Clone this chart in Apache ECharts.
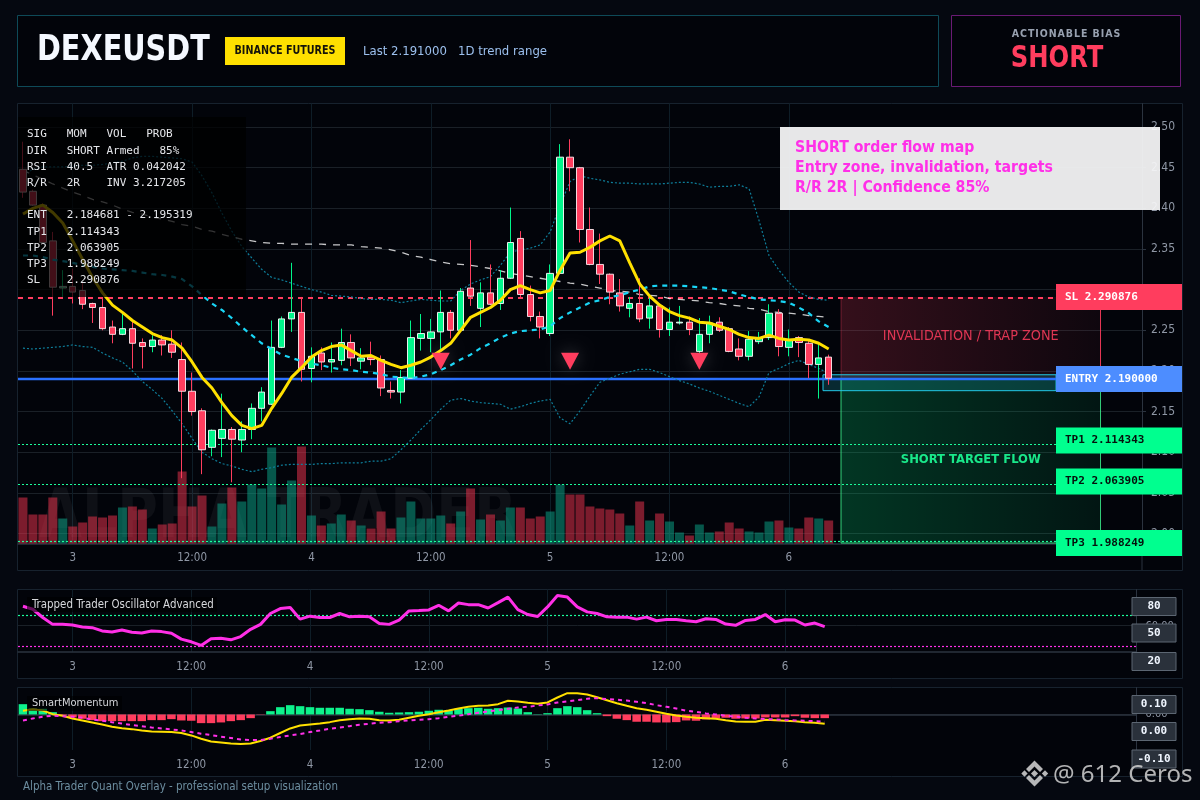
<!DOCTYPE html>
<html><head><meta charset="utf-8"><style>html,body{margin:0;padding:0;background:#050810}#c{width:1200px;height:800px}</style>
<script src="https://cdn.jsdelivr.net/npm/echarts@6/dist/echarts.min.js"></script></head><body><div id="c"></div>
<script>
const timeLabels = {5:'3',17:'12:00',29:'4',41:'12:00',53:'5',65:'12:00',77:'6'};
const slotCount = 113;
// [open, close, low, high]
const ohlc = [
[2.448,2.420,2.413,2.482],[2.421,2.404,2.403,2.423],[2.404,2.358,2.357,2.406],[2.360,2.303,2.268,2.371],[2.302,2.304,2.291,2.324],
[2.304,2.297,2.283,2.326],[2.299,2.282,2.276,2.309],[2.283,2.278,2.259,2.284],[2.278,2.252,2.250,2.289],[2.254,2.245,2.234,2.262],
[2.245,2.252,2.244,2.271],[2.252,2.234,2.203,2.262],[2.235,2.230,2.203,2.240],[2.230,2.238,2.223,2.244],[2.238,2.232,2.219,2.244],
[2.233,2.223,2.216,2.250],[2.214,2.175,2.068,2.235],[2.175,2.150,2.145,2.198],[2.151,2.103,2.073,2.154],[2.106,2.127,2.095,2.128],
[2.117,2.128,2.094,2.172],[2.128,2.116,2.063,2.131],[2.115,2.128,2.100,2.138],[2.128,2.154,2.116,2.160],[2.154,2.174,2.138,2.180],
[2.159,2.229,2.158,2.262],[2.229,2.264,2.228,2.267],[2.264,2.272,2.248,2.333],[2.272,2.202,2.187,2.291],[2.203,2.218,2.186,2.229],
[2.222,2.211,2.201,2.229],[2.211,2.214,2.198,2.235],[2.213,2.235,2.207,2.252],[2.235,2.216,2.206,2.245],[2.212,2.216,2.202,2.228],
[2.217,2.214,2.207,2.236],[2.214,2.179,2.169,2.219],[2.176,2.174,2.166,2.187],[2.174,2.192,2.160,2.201],[2.191,2.241,2.191,2.262],
[2.240,2.246,2.225,2.270],[2.240,2.248,2.223,2.264],[2.248,2.272,2.225,2.299],[2.272,2.250,2.240,2.275],[2.250,2.298,2.249,2.302],
[2.302,2.292,2.280,2.361],[2.277,2.296,2.254,2.309],[2.296,2.282,2.281,2.331],[2.283,2.314,2.275,2.324],[2.314,2.358,2.313,2.401],
[2.363,2.294,2.289,2.372],[2.294,2.267,2.261,2.305],[2.267,2.254,2.240,2.273],[2.246,2.320,2.243,2.331],[2.320,2.463,2.319,2.479],
[2.463,2.450,2.421,2.485],[2.450,2.374,2.358,2.451],[2.374,2.331,2.330,2.401],[2.331,2.319,2.307,2.369],[2.319,2.297,2.282,2.320],
[2.296,2.280,2.273,2.313],[2.277,2.283,2.266,2.291],[2.283,2.264,2.260,2.314],[2.265,2.280,2.252,2.293],[2.280,2.251,2.241,2.283],
[2.251,2.260,2.243,2.278],[2.259,2.260,2.257,2.280],[2.260,2.251,2.244,2.267],[2.224,2.245,2.222,2.265],[2.245,2.259,2.234,2.268],
[2.260,2.250,2.248,2.266],[2.252,2.224,2.223,2.254],[2.227,2.218,2.213,2.240],[2.218,2.239,2.213,2.249],[2.236,2.241,2.233,2.248],
[2.241,2.271,2.238,2.282],[2.271,2.230,2.218,2.276],[2.229,2.238,2.218,2.251],[2.241,2.235,2.217,2.243],[2.234,2.208,2.191,2.238],
[2.208,2.216,2.166,2.234],[2.217,2.191,2.183,2.220]];
const volumes = [46,29,29,46,25,17,21,27,26,28,36,37,34,15,19,20,72,37,48,17,40,56,42,59,55,96,39,63,97,28,18,20,29,23,18,15,32,15,26,42,25,25,28,20,32,55,24,29,23,36,36,25,27,32,59,49,49,37,35,34,30,18,42,23,30,22,11,8,19,11,12,21,15,12,11,22,23,16,15,26,25,23];
const emaFast = [2.393,2.400,2.404,2.395,2.382,2.360,2.337,2.315,2.296,2.281,2.272,2.262,2.254,2.246,2.241,2.238,2.228,2.211,2.192,2.179,2.161,2.145,2.133,2.129,2.133,2.154,2.172,2.192,2.204,2.217,2.225,2.230,2.232,2.225,2.218,2.219,2.213,2.208,2.204,2.207,2.211,2.217,2.225,2.234,2.250,2.266,2.272,2.278,2.287,2.300,2.305,2.300,2.296,2.299,2.324,2.345,2.346,2.352,2.360,2.366,2.360,2.333,2.307,2.292,2.281,2.273,2.268,2.265,2.260,2.259,2.255,2.251,2.245,2.241,2.240,2.244,2.240,2.238,2.239,2.238,2.234,2.227];
const emaMid = [2.342,2.342,2.340,2.337,2.335,2.333,2.330,2.328,2.326,2.325,2.324,2.323,2.321,2.319,2.318,2.316,2.313,2.304,2.293,2.283,2.275,2.265,2.254,2.244,2.234,2.227,2.220,2.216,2.212,2.209,2.207,2.204,2.202,2.201,2.199,2.198,2.196,2.193,2.192,2.191,2.193,2.196,2.201,2.207,2.214,2.220,2.228,2.234,2.241,2.246,2.249,2.250,2.251,2.255,2.265,2.272,2.278,2.284,2.287,2.291,2.293,2.297,2.300,2.304,2.305,2.305,2.305,2.304,2.303,2.302,2.300,2.298,2.294,2.291,2.288,2.287,2.286,2.284,2.278,2.271,2.261,2.254];
const bandUpper = [2.441,2.448,2.451,2.451,2.451,2.452,2.453,2.453,2.454,2.456,2.458,2.462,2.464,2.464,2.463,2.462,2.461,2.457,2.440,2.419,2.394,2.372,2.353,2.339,2.325,2.315,2.312,2.308,2.304,2.300,2.297,2.293,2.292,2.291,2.289,2.288,2.288,2.287,2.284,2.286,2.288,2.287,2.286,2.286,2.299,2.307,2.312,2.316,2.330,2.346,2.349,2.351,2.355,2.371,2.404,2.433,2.440,2.437,2.435,2.432,2.431,2.431,2.430,2.430,2.430,2.431,2.432,2.432,2.430,2.426,2.427,2.427,2.429,2.424,2.385,2.342,2.324,2.309,2.297,2.291,2.288,2.287];
const bandLower = [2.228,2.227,2.228,2.229,2.230,2.232,2.230,2.229,2.222,2.216,2.211,2.200,2.187,2.177,2.166,2.151,2.135,2.117,2.100,2.092,2.086,2.083,2.079,2.076,2.079,2.081,2.084,2.085,2.085,2.085,2.086,2.086,2.087,2.087,2.087,2.089,2.089,2.092,2.103,2.115,2.128,2.140,2.153,2.164,2.166,2.163,2.161,2.160,2.159,2.153,2.156,2.160,2.163,2.165,2.142,2.135,2.151,2.169,2.186,2.191,2.196,2.199,2.202,2.202,2.198,2.193,2.188,2.184,2.179,2.175,2.170,2.165,2.160,2.156,2.168,2.198,2.203,2.209,2.213,2.208,2.203,2.197];
const maSlow = [2.447,2.441,2.436,2.430,2.425,2.420,2.416,2.411,2.408,2.404,2.399,2.395,2.393,2.389,2.387,2.384,2.380,2.378,2.374,2.372,2.368,2.365,2.362,2.360,2.358,2.357,2.357,2.356,2.356,2.356,2.356,2.355,2.355,2.355,2.353,2.352,2.351,2.349,2.346,2.342,2.340,2.337,2.334,2.332,2.331,2.330,2.328,2.326,2.323,2.320,2.318,2.316,2.314,2.312,2.310,2.308,2.307,2.304,2.302,2.299,2.298,2.297,2.294,2.293,2.292,2.289,2.288,2.287,2.286,2.284,2.283,2.281,2.280,2.277,2.276,2.273,2.272,2.271,2.270,2.268,2.267,2.266];
const oscillator = [98.1,92.3,76.1,62.6,62.6,61.3,57.4,56.1,49.7,47.8,51.6,47.1,45.8,49.7,48.4,45.2,33.6,28.4,21.3,34.2,35.5,32.3,38.7,52.9,62.6,83.9,93.6,95.5,72.9,78.7,76.1,76.1,83.9,77.4,78.7,77.4,64.5,62.6,71,89,89.7,91,100,89,104.5,101.3,101.3,94.8,105.2,116.1,91.6,81.9,78.1,96.8,119.4,116.1,96.8,87.1,83.9,77.4,76.8,76.8,72.9,76.8,69.7,72.3,72.3,69.7,67.7,73.6,72.3,63.2,60.7,70.3,72.3,81.9,67.7,71.6,71,61.3,65.2,58.1];
const momHist = [.103,.060,.057,.023,-.007,-.030,-.043,-.057,-.067,-.067,-.067,-.067,-.067,-.057,-.057,-.047,-.060,-.063,-.087,-.087,-.080,-.067,-.057,-.037,-.003,.033,.073,.093,.083,.073,.067,.067,.067,.057,.053,.043,.027,.017,.020,.023,.027,.037,.047,.040,.057,.063,.067,.057,.063,.070,.060,.023,.003,.013,.063,.083,.073,.043,.013,-.017,-.043,-.057,-.073,-.073,-.080,-.080,-.077,-.060,-.063,-.050,-.040,-.033,-.043,-.040,-.040,-.030,-.030,-.030,-.017,-.033,-.037,-.037];
const momLine = [.037,.053,.040,.003,-.013,-.040,-.060,-.080,-.100,-.123,-.137,-.147,-.160,-.170,-.173,-.176,-.186,-.210,-.243,-.270,-.280,-.290,-.296,-.290,-.266,-.233,-.186,-.140,-.110,-.100,-.090,-.077,-.057,-.047,-.040,-.043,-.057,-.060,-.053,-.033,-.013,.003,.023,.040,.060,.077,.087,.090,.103,.137,.130,.117,.107,.120,.170,.213,.213,.200,.173,.143,.113,.087,.063,.047,.027,.007,-.010,-.023,-.033,-.037,-.043,-.057,-.070,-.073,-.073,-.053,-.057,-.063,-.067,-.077,-.083,-.093];
const momSignal = [-.060,-.040,-.023,-.013,-.017,-.023,-.033,-.050,-.063,-.077,-.090,-.107,-.117,-.130,-.140,-.150,-.160,-.176,-.193,-.206,-.223,-.236,-.250,-.256,-.256,-.243,-.226,-.210,-.196,-.176,-.160,-.143,-.130,-.117,-.103,-.093,-.083,-.077,-.067,-.060,-.053,-.047,-.037,-.023,-.013,.003,.017,.030,.043,.057,.070,.077,.090,.100,.120,.130,.143,.157,.163,.153,.147,.140,.127,.113,.093,.077,.060,.037,.027,.010,0,-.013,-.023,-.033,-.040,-.047,-.050,-.057,-.060,-.063,-.067,-.073];
const signalIndex = [42,55,68];
const signalPrice = [2.212,2.212,2.212];
const priceTicks = [2.00,2.05,2.10,2.15,2.20,2.25,2.30,2.35,2.40,2.45,2.50];
const levelNames = ['SL','ENTRY','TP1','TP2','TP3'];
const levelPrices = [2.290876,2.190000,2.114343,2.063905,1.988249];
const oscLevels = [80,20];
const oscTags = ['80','50','20'];
const momTags = ['0.10','0.00','-0.10'];
const infoLines = ['SIG   MOM   VOL   PROB','DIR   SHORT Armed   85%','RSI   40.5  ATR 0.042042','R/R   2R    INV 3.217205','','ENT   2.184681 - 2.195319','TP1   2.114343','TP2   2.063905','TP3   1.988249','SL    2.290876'];
const noteLines = ['SHORT order flow map','Entry zone, invalidation, targets','R/R 2R | Confidence 85%'];

const SANS = '"DejaVu Sans Condensed","DejaVu Sans",sans-serif';
const MONO = '"DejaVu Sans Mono",monospace';
const RED='#ff3d5e', GREEN='#00f58a', TAGGREEN='#00ff8f', BLUE='#4d8dff';
const categories = Array.from({length:slotCount},(_,i)=>String(i));
const isTime = i => timeLabels[i]!==undefined;
const xAxisFor = (gridIndex)=>({
  type:'category',gridIndex,data:categories,boundaryGap:true,
  axisLine:{lineStyle:{color:'#2b333f',width:1.5}},
  axisTick:{show:false},
  axisLabel:{color:'#8f97a5',fontFamily:SANS,fontSize:11.5,margin:9,interval:(i)=>isTime(i),formatter:(v,i)=>timeLabels[i]||''},
  splitLine:{show:true,alignWithLabel:true,interval:(i)=>isTime(i),lineStyle:{color:'#0e1d27',width:1}}
});
const yBase = {position:'right',scale:false,splitNumber:1,
  axisLine:{show:true,lineStyle:{color:'#2b333f'}},
  axisLabel:{color:'#8f97a5',fontFamily:SANS,fontSize:12,margin:9},
  splitLine:{show:true,lineStyle:{color:'#1a2027',width:1}}};

const zoneFrom=[82.24,82.24,80.43], zoneTo=[108.33,108.33,103.86];
const zoneTop=[2.290876,2.190000,2.1953], zoneBottom=[2.190000,1.988249,2.1757];
function slotX(api,v,y){const f=Math.floor(v);const a=api.coord([f,y])[0],b=api.coord([f+1,y])[0];return a+(b-a)*(v-f);}
function renderZone(params,api){
  const i=params.dataIndex;
  const x0=slotX(api,zoneFrom[i],zoneTop[i]),x1=slotX(api,zoneTo[i],zoneTop[i]);
  const y0=api.coord([0,zoneTop[i]])[1],y1=api.coord([0,zoneBottom[i]])[1];
  const G=echarts.graphic.LinearGradient;
  if(i===0) return {type:'group',children:[
    {type:'rect',shape:{x:x0,y:y0,width:x1-x0,height:y1-y0},style:{fill:new G(0,0,1,0,[{offset:0,color:'rgba(255,61,94,0.20)'},{offset:1,color:'rgba(255,61,94,0.05)'}])}},
    {type:'line',shape:{x1:x0,y1:y0,x2:x0,y2:y1},style:{stroke:'rgba(255,61,94,0.35)',lineWidth:1}},
    {type:'line',shape:{x1:x1,y1:y0,x2:x1,y2:y1},style:{stroke:'rgba(255,61,94,0.9)',lineWidth:1}},
    {type:'text',style:{x:(x0+x1)/2,y:(y0+y1)/2-2,text:'INVALIDATION / TRAP ZONE',fill:'rgba(255,61,94,0.85)',font:'14.3px '+SANS,align:'center',verticalAlign:'middle'}}
  ]};
  if(i===1) return {type:'group',children:[
    {type:'rect',shape:{x:x0,y:y0,width:x1-x0,height:y1-y0},style:{fill:new G(0,0,1,0,[{offset:0,color:'rgba(0,255,136,0.20)'},{offset:1,color:'rgba(0,255,136,0.07)'}]),stroke:'rgba(60,240,140,0.85)',lineWidth:1}},
    {type:'text',style:{x:(x0+x1)/2,y:460,text:'SHORT TARGET FLOW',fill:'#19e88a',font:'bold 12.9px '+SANS,align:'center',verticalAlign:'middle'}}
  ]};
  return {type:'rect',shape:{x:x0,y:y0,width:x1-x0,height:y1-y0},style:{fill:'rgba(40,210,230,0.18)',stroke:'#22c8e6',lineWidth:1}};
}
function renderTag(params,api){
  const i=params.dataIndex;const y=api.coord([0,levelPrices[i]])[1];
  const fill=i===0?RED:(i===1?BLUE:TAGGREEN);const ink=i<2?'#ffffff':'#05110c';
  return {type:'group',children:[
    {type:'rect',shape:{x:1056,y:y-13,width:126,height:26},style:{fill}},
    {type:'text',style:{x:1065,y:y,text:levelNames[i]+' '+levelPrices[i].toFixed(6),fill:ink,font:'bold 11px '+MONO,verticalAlign:'middle'}}
  ]};
}
const noSym={symbol:'none',silent:true,animation:false};
const lineOn=(name,data,style,x=0,y=0,z=5)=>({name,type:'line',xAxisIndex:x,yAxisIndex:y,data,...noSym,z,lineStyle:style});

const chart=echarts.init(document.getElementById('c'),null,{renderer:'canvas',width:1200,height:800});
const tagRect=(y,h=18)=>({type:'rect',z:60,silent:true,shape:{x:1132,y,width:44,height:h},style:{fill:'#2a313b',stroke:'#5c6672',lineWidth:1}});
const tagText=(t,y)=>({type:'text',z:61,silent:true,style:{x:1154,y,text:t,fill:'#f0f6ff',font:'bold 11px '+MONO,align:'center',verticalAlign:'middle'}});
const panel=(x,y,w,h,stroke,fill)=>({type:'rect',z:-1,silent:true,shape:{x,y,width:w,height:h},style:{fill:fill||'#02040a',stroke,lineWidth:1}});
const squeezed=(x,y,sx,style,z=70)=>({type:'text',z,silent:true,x,y,scaleX:sx,style:{x:0,y:0,verticalAlign:'middle',...style}});
const diamond=(cx,cy,r)=>({type:'polygon',z:65,silent:true,shape:{points:[[cx,cy-r],[cx+r,cy],[cx,cy+r],[cx-r,cy]]},style:{fill:'rgba(215,215,215,0.85)'}});
const chevron=(cx,cy,s)=>({type:'polygon',z:65,silent:true,shape:{points:[[cx,cy-s*13],[cx+8.5,cy-s*4.5],[cx+5.5,cy-s*1.5],[cx,cy-s*7],[cx-5.5,cy-s*1.5],[cx-8.5,cy-s*4.5]]},style:{fill:'rgba(215,215,215,0.85)'}});

const graphics=[
  panel(17.5,15.5,921,71,'#0e4a58'),
  panel(951.5,15.5,229,71,'#6a1a74'),
  panel(17.5,103.5,1165,467,'#17222e'),
  panel(17.5,589.5,1165,89,'#17222e'),
  panel(17.5,687.5,1165,89,'#17222e'),
  {type:'line',z:1,silent:true,shape:{x1:1142,y1:543,x2:1142,y2:570},style:{stroke:'#2b333f',lineWidth:1}},
  squeezed(278,519,0.907,{text:'ALPHA TRADER',fill:'rgba(255,255,255,0.05)',font:'bold 68px '+SANS,align:'center'},1),
  squeezed(37,51,0.887,{text:'DEXEUSDT',fill:'#f4f8ff',font:'bold 36px '+SANS,shadowBlur:14,shadowColor:'rgba(60,200,220,0.55)'}),
  {type:'rect',z:70,silent:true,shape:{x:225,y:37,width:120,height:28},style:{fill:'#ffe000'}},
  squeezed(285,51,0.89,{text:'BINANCE FUTURES',fill:'#15140a',font:'bold 12px '+SANS,align:'center'},71),
  {type:'text',z:70,silent:true,style:{x:363,y:52,text:'Last 2.191000   1D trend range',fill:'#9cc0ee',font:'13px '+SANS,verticalAlign:'middle'}},
  {type:'text',z:70,silent:true,style:{x:1066,y:34,text:'ACTIONABLE BIAS'.split('').join('\u200A'),fill:'#98a1b0',font:'bold 10.5px '+SANS,align:'center',verticalAlign:'middle'}},
  squeezed(1057,59,0.9,{text:'SHORT',fill:RED,font:'bold 30px '+SANS,align:'center',shadowBlur:12,shadowColor:'rgba(255,61,94,0.5)'}),
  {type:'rect',z:50,silent:true,shape:{x:18,y:117,width:228,height:180},style:{fill:'rgba(0,0,0,0.74)'}},
  ...infoLines.map((t,i)=>({type:'text',z:51,silent:true,style:{x:27,y:134.5+i*16.2,text:t,fill:'#e4e6ea',font:'11px '+MONO,verticalAlign:'middle'}})),
  {type:'rect',z:50,silent:true,shape:{x:780,y:127,width:380,height:83},style:{fill:'rgba(245,245,246,0.94)'}},
  ...noteLines.map((t,i)=>({type:'text',z:51,silent:true,style:{x:795,y:148+i*20,text:t,fill:'#ff30e8',font:'bold 15.7px '+SANS,verticalAlign:'middle'}})),
  {type:'rect',z:50,silent:true,shape:{x:27,y:597,width:190,height:15},style:{fill:'rgba(0,0,0,0.6)'}},
  {type:'text',z:51,silent:true,style:{x:32,y:605,text:'Trapped Trader Oscillator Advanced',fill:'#d6d8dc',font:'11.4px '+SANS,verticalAlign:'middle'}},
  {type:'rect',z:50,silent:true,shape:{x:27,y:696,width:95,height:15},style:{fill:'rgba(0,0,0,0.6)'}},
  {type:'text',z:51,silent:true,style:{x:32,y:703,text:'SmartMomentum',fill:'#d6d8dc',font:'11px '+SANS,verticalAlign:'middle'}},
  tagRect(597.5),tagRect(624),tagRect(652.5),tagRect(695.5),tagRect(722.5),tagRect(750),
  tagText(oscTags[0],606.5),tagText(oscTags[1],633),tagText(oscTags[2],661.5),
  tagText(momTags[0],704.5),tagText(momTags[1],731.5),tagText(momTags[2],759),
  {type:'text',z:51,silent:true,style:{x:23,y:787,text:'Alpha Trader Quant Overlay - professional setup visualization',fill:'#6d8ea0',font:'11.45px '+SANS,verticalAlign:'middle'}},
  diamond(1024.5,773.5,3.2),diamond(1045,773.5,3.2),diamond(1034.5,773.5,3.6),chevron(1034.5,773.5,1),chevron(1034.5,773.5,-1),
  {type:'text',z:65,silent:true,style:{x:1053,y:775,text:'@ 612 Ceros',fill:'rgba(210,210,210,0.85)',font:'24px "Noto Sans",sans-serif',verticalAlign:'middle'}}
];

chart.setOption({
  animation:false,backgroundColor:'#050810',
  grid:[
    {left:18,right:58,top:103.5,height:440,containLabel:false},
    {left:18,right:63.5,top:589.5,height:62.5},
    {left:18,right:63.5,top:687.5,height:62.5}
  ],
  xAxis:[xAxisFor(0),xAxisFor(1),xAxisFor(2)],
  yAxis:[
    {...yBase,gridIndex:0,min:1.9877,max:2.5290,
     axisTick:{show:true,length:4,customValues:priceTicks,lineStyle:{color:'#2b333f'}},
     axisLabel:{...yBase.axisLabel,customValues:priceTicks,formatter:v=>v.toFixed(2)}},
    {gridIndex:0,show:false,min:0,max:440,splitLine:{show:false}},
    {...yBase,gridIndex:1,min:8.4,max:131,
     axisTick:{show:false,customValues:[60]},
     axisLabel:{...yBase.axisLabel,fontSize:11,customValues:[60],formatter:v=>v.toFixed(2)}},
    {...yBase,gridIndex:2,min:-.356,max:.27,
     axisTick:{show:false,customValues:[0]},
     axisLabel:{...yBase.axisLabel,fontSize:11,customValues:[0],formatter:v=>v.toFixed(2)},
     splitLine:{show:true,lineStyle:{color:'#14191f',width:1}}}
  ],
  graphic:{elements:graphics},
  series:[
    {name:'Zones',type:'custom',xAxisIndex:0,yAxisIndex:0,z:2,silent:true,clip:false,renderItem:renderZone,encode:{x:0,y:1},data:zoneFrom.map((_,i)=>[i,zoneTop[i]])},
    {name:'Volume',type:'bar',xAxisIndex:0,yAxisIndex:1,barWidth:9,z:3,silent:true,
     data:volumes.map((v,i)=>({value:v,itemStyle:{color:ohlc[i][1]>=ohlc[i][0]?'rgba(10,170,140,0.5)':'rgba(225,50,75,0.55)'}}))},
    lineOn('Band upper',bandUpper,{color:'#0e7e9a',width:1.2,type:[2,2]}),
    lineOn('Band lower',bandLower,{color:'#0e7e9a',width:1.2,type:[2,2]}),
    lineOn('MA slow',maSlow,{color:'rgba(255,255,255,0.78)',width:1.3,type:[7,7]}),
    {name:'Levels',type:'line',xAxisIndex:0,yAxisIndex:0,data:[],...noSym,z:6,
     markLine:{symbol:'none',silent:true,animation:false,label:{show:false},
      data:[
       {yAxis:levelPrices[0],lineStyle:{color:RED,width:1.8,type:[5,5]}},
       {yAxis:levelPrices[1],lineStyle:{color:'#2a70ff',width:2.4,type:'solid'}},
       {yAxis:levelPrices[2],lineStyle:{color:'#1bff9c',width:1.2,type:[2,2]}},
       {yAxis:levelPrices[3],lineStyle:{color:'#1bff9c',width:1.2,type:[2,2]}},
       {yAxis:levelPrices[4],lineStyle:{color:'#1bff9c',width:1.2,type:[2,2]}}
      ]}},
    {name:'Wicks',type:'candlestick',xAxisIndex:0,yAxisIndex:0,barWidth:1,z:7,silent:true,data:ohlc,
     itemStyle:{color:GREEN,color0:RED,borderColor:GREEN,borderColor0:RED,borderWidth:1}},
    {name:'Bodies',type:'candlestick',xAxisIndex:0,yAxisIndex:0,barWidth:7,z:8,silent:true,
     data:ohlc.map(d=>[d[0],d[1],Math.min(d[0],d[1]),Math.max(d[0],d[1])]),
     itemStyle:{color:GREEN,color0:RED,borderColor:'rgba(255,255,255,0.9)',borderColor0:'rgba(255,235,240,0.9)',borderWidth:1}},
    lineOn('EMA mid',emaMid,{color:'#19d5f5',width:2.2,type:[5,5]},0,0,9),
    lineOn('EMA fast',emaFast,{color:'#ffe000',width:3},0,0,10),
    {name:'Signals',type:'scatter',xAxisIndex:0,yAxisIndex:0,z:11,silent:true,symbol:'triangle',symbolRotate:180,symbolSize:[18,17],
     data:signalIndex.map((x,i)=>[x,signalPrice[i]]),
     itemStyle:{color:RED,opacity:1,shadowBlur:16,shadowColor:'rgba(255,255,255,0.22)'}},
    {name:'Tags',type:'custom',xAxisIndex:0,yAxisIndex:0,z:40,silent:true,clip:false,renderItem:renderTag,encode:{x:0,y:1},data:levelPrices.map((p,i)=>[i,p])},
    {name:'Osc levels',type:'line',xAxisIndex:1,yAxisIndex:2,data:[],...noSym,
     markLine:{symbol:'none',silent:true,animation:false,label:{show:false},
      data:[{yAxis:oscLevels[0],lineStyle:{color:'#1bff9c',width:1.2,type:[2,2]}},{yAxis:oscLevels[1],lineStyle:{color:'#ff30e8',width:1.2,type:[2,2]}}]}},
    lineOn('Oscillator',oscillator,{color:'#ff2fe6',width:3},1,2,6),
    {name:'Momentum hist',type:'bar',xAxisIndex:2,yAxisIndex:3,barWidth:8.5,z:4,silent:true,
     data:momHist.map(v=>({value:v,itemStyle:{color:v>=0?'#0df28c':RED}}))},
    lineOn('Momentum',momLine,{color:'#ffe000',width:2},2,3,6),
    lineOn('Signal',momSignal,{color:'#ff30e8',width:2,type:[4,4]},2,3,7)
  ]
});
</script></body></html>
